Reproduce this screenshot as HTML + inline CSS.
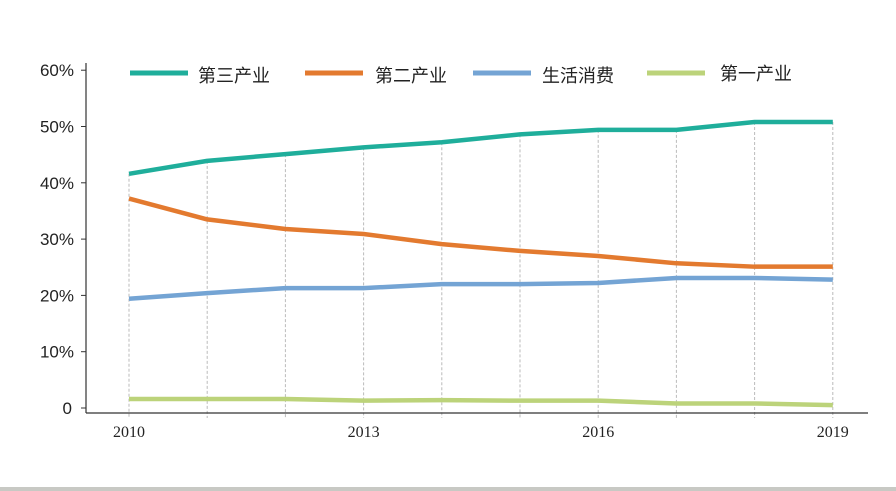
<!DOCTYPE html>
<html><head><meta charset="utf-8"><style>
body{margin:0;background:#fff;width:896px;height:491px;overflow:hidden}
svg{display:block}
</style></head><body>
<svg id="chart" width="896" height="491" xmlns="http://www.w3.org/2000/svg">
<rect x="0" y="487" width="896" height="4" fill="#c8c9c4"/>
<g id="grid"></g>
<g id="axes"></g>
<g id="series"></g>
<g id="legend"></g>
</svg>
<script>
const years=[2010,2011,2012,2013,2014,2015,2016,2017,2018,2019];
const xLabels=["2010","2013","2016","2019"];
const yTicks=[0,10,20,30,40,50,60];
const tertiary=[41.6,43.9,45.1,46.3,47.2,48.6,49.4,49.4,50.8,50.8];
const secondary=[37.2,33.5,31.8,30.9,29.1,27.9,27.0,25.7,25.1,25.1];
const consumption=[19.4,20.4,21.3,21.3,22.0,22.0,22.2,23.1,23.1,22.8];
const primary=[1.6,1.6,1.6,1.3,1.4,1.3,1.3,0.8,0.8,0.5];
const names=["第三产业","第二产业","生活消费","第一产业"];
const colors=["#1fae9b","#e37a2f","#74a4d4","#bcd37a"];
const NS="http://www.w3.org/2000/svg";
const X=y=>129+(y-2010)*78.2;
const Y=v=>408-v*5.63;
function mk(tag,attrs,parent,text){const e=document.createElementNS(NS,tag);for(const k in attrs)e.setAttribute(k,attrs[k]);if(text!==undefined)e.textContent=text;document.getElementById(parent).appendChild(e);return e;}
years.forEach((y,j)=>{
 const g=mk('line',{x1:X(y),x2:X(y),y1:Y(tertiary[j]),y2:418,stroke:'#bbb','stroke-width':1,'stroke-dasharray':'3,2'},'grid');
 
 
});
let a=mk('line',{x1:86,x2:86,y1:63,y2:413,stroke:'#333','stroke-width':1.2},'axes');


a=mk('line',{x1:86,x2:868,y1:413,y2:413,stroke:'#333','stroke-width':1.2},'axes');


yTicks.forEach(t=>{
 const tk=mk('line',{x1:81,x2:86,y1:Y(t),y2:Y(t),stroke:'#333'},'axes');
 
 
 const l=mk('text',{x:t===0?72:74,y:Y(t)+6,'text-anchor':'end','font-family':'Liberation Sans, sans-serif','font-size':17,fill:'#222'},'axes',t===0?'0':t+'%');
 
 
});
xLabels.forEach(s=>{
 const l=mk('text',{x:X(+s),y:437,'text-anchor':'middle','font-family':'Liberation Serif, serif','font-size':16,fill:'#222'},'axes',s);
 
 
});
[tertiary,secondary,consumption,primary].forEach((arr,i)=>{
 const p=mk('polyline',{points:arr.map((v,j)=>X(years[j])+','+Y(v)).join(' '),fill:'none',stroke:colors[i],'stroke-width':4.5,'stroke-linejoin':'round'},'series');
 
 
});
const lx=[130,305,473,647],tx=[198,375,542,720],ly=[74,74,74,72];
names.forEach((n,i)=>{
 const l=mk('line',{x1:lx[i],x2:lx[i]+58,y1:73,y2:73,stroke:colors[i],'stroke-width':5},'legend');
 
 
 const t=mk('text',{x:tx[i],y:ly[i]+8,'font-family':'Liberation Sans, Noto Sans CJK SC, sans-serif','font-size':18,fill:'#222'},'legend',n);
 
 
});
</script>
</body></html>
